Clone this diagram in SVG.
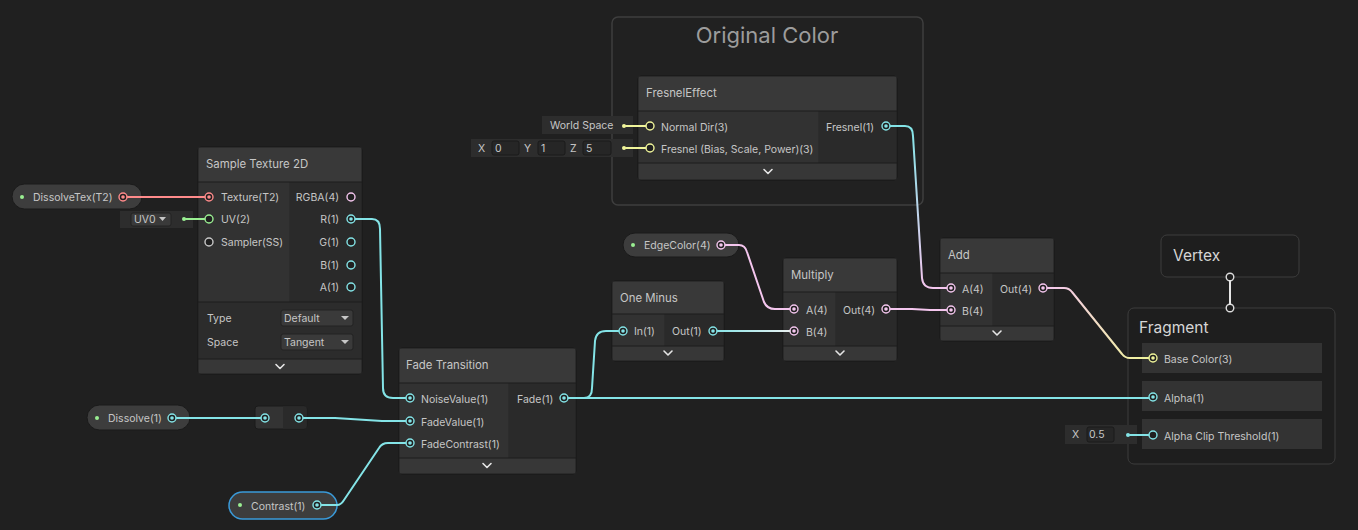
<svg xmlns="http://www.w3.org/2000/svg" width="1358" height="530" viewBox="0 0 1358 530">
<defs>
<style>
.bg{fill:#202020}
.node{fill:#2a2a2a;stroke:#171717;stroke-width:1}
.title{fill:#393939}
.inp{fill:#323232}
.outp{fill:#2a2a2a}
.col{fill:#373737}
.sep{stroke:#1c1c1c;stroke-width:1}
.t{font-family:Inter,"Noto Sans",sans-serif;font-size:10.5px;fill:#c6c6c6;dominant-baseline:central}
.tt{font-family:Inter,"Noto Sans",sans-serif;font-size:11.4px;fill:#c6c6c6;dominant-baseline:central}
.big{font-family:Inter,"Noto Sans",sans-serif;font-size:15.5px;fill:#d6d6d6;dominant-baseline:central}
.grp{font-family:Inter,"Noto Sans",sans-serif;font-size:22px;fill:#9c9c9c;dominant-baseline:central}
.r{text-anchor:end}
.chev{fill:none;stroke:#e6e6e6;stroke-width:1.6;stroke-linecap:round;stroke-linejoin:round}
.pill{fill:#3d3d3d;stroke:#1a1a1a;stroke-width:1}
.box{fill:#2d2d2d}
.fld{fill:#262626;stroke:#1a1a1a;stroke-width:1}
.dd{fill:#3a3a3a;stroke:#222;stroke-width:1}
.e{fill:none;stroke-width:2;stroke-linecap:round;stroke-linejoin:round}
.pcy{fill:#202020;stroke:#84e4e7;stroke-width:1.4}
.ppk{fill:#202020;stroke:#f4c6ee;stroke-width:1.4}
.prd{fill:#202020;stroke:#ff8b8b;stroke-width:1.4}
.pgr{fill:#202020;stroke:#9aef92;stroke-width:1.4}
.pye{fill:#202020;stroke:#f0f59a;stroke-width:1.4}
.pwh{fill:#202020;stroke:#c8c8c8;stroke-width:1.4}
.dcy{fill:#84e4e7}.dpk{fill:#f4c6ee}.drd{fill:#ff8b8b}.dgr{fill:#9aef92}.dye{fill:#f0f59a}
.blk{fill:#1e1e1e;stroke:#3c3c3c;stroke-width:1}
.row{fill:#333333}
</style>
<linearGradient id="gFresAdd" gradientUnits="userSpaceOnUse" x1="0" y1="130" x2="0" y2="289"><stop offset="0" stop-color="#84e4e7"/><stop offset="1" stop-color="#f4c6ee"/></linearGradient>
<linearGradient id="gOmMul" gradientUnits="userSpaceOnUse" x1="713" y1="0" x2="794" y2="0"><stop offset="0" stop-color="#84e4e7"/><stop offset="1" stop-color="#eef0f0"/></linearGradient>
<linearGradient id="gAddBase" gradientUnits="userSpaceOnUse" x1="1043" y1="288" x2="1153" y2="358"><stop offset="0" stop-color="#f4c6ee"/><stop offset="1" stop-color="#f0f59a"/></linearGradient>
</defs>
<rect class="bg" x="0" y="0" width="1358" height="530"/>

<g id="group-original-color">
<rect x="612" y="17" width="311" height="188" rx="6" fill="#212121" stroke="#3e3e3e" stroke-width="1.5"/>
<text class="grp" x="767" y="35" text-anchor="middle">Original Color</text>
</g>

<g id="dissolvetex">
<rect class="pill" x="12" y="184" width="130" height="25" rx="12.5"/>
<circle class="dgr" cx="22" cy="197" r="2"/>
<text class="t" x="33" y="197">DissolveTex(T2)</text>
<circle class="prd" cx="123" cy="197" r="4"/><circle class="drd" cx="123" cy="197" r="1.8"/>
</g>

<g id="uv0">
<rect class="box" x="120" y="211" width="73" height="17"/>
<rect class="dd" x="131" y="213" width="40" height="13" rx="2"/>
<text class="t" x="134" y="219.5">UV0</text>
<path d="M159,217 h7 l-3.5,4 z" fill="#c6c6c6"/>
<circle class="dgr" cx="184" cy="219" r="2"/>
</g>

<g id="sample-texture-2d">
<rect class="node" x="198" y="147" width="164" height="227" rx="3"/>
<rect class="title" x="198.5" y="147.5" width="163" height="34.5"/>
<rect class="inp" x="198.5" y="182" width="91" height="120"/>
<rect class="outp" x="289.5" y="182" width="72" height="120"/>
<rect x="198.5" y="302" width="163" height="57" fill="#2c2c2c"/>
<rect class="col" x="198.5" y="359" width="163" height="14.5"/>
<line class="sep" x1="198" y1="182" x2="362" y2="182"/>
<line class="sep" x1="198" y1="302" x2="362" y2="302"/>
<line class="sep" x1="198" y1="359" x2="362" y2="359"/>
<text class="tt" x="206" y="164">Sample Texture 2D</text>
<circle class="prd" cx="209" cy="197" r="4"/><circle class="drd" cx="209" cy="197" r="1.8"/>
<text class="t" x="221" y="197">Texture(T2)</text>
<circle class="pgr" cx="209" cy="219" r="4"/>
<text class="t" x="221" y="219">UV(2)</text>
<circle class="pwh" cx="209" cy="242" r="4"/>
<text class="t" x="221" y="242">Sampler(SS)</text>
<text class="t r" x="339" y="197">RGBA(4)</text>
<circle class="ppk" cx="351" cy="197" r="4"/>
<text class="t r" x="339" y="219">R(1)</text>
<circle class="pcy" cx="351" cy="219" r="4"/><circle class="dcy" cx="351" cy="219" r="1.8"/>
<text class="t r" x="339" y="242">G(1)</text>
<circle class="pcy" cx="351" cy="242" r="4"/>
<text class="t r" x="339" y="265">B(1)</text>
<circle class="pcy" cx="351" cy="265" r="4"/>
<text class="t r" x="339" y="287">A(1)</text>
<circle class="pcy" cx="351" cy="287" r="4"/>
<text class="t" x="207" y="318">Type</text>
<rect class="dd" x="281" y="310" width="72" height="16" rx="2"/>
<text class="t" x="284" y="318">Default</text>
<path d="M341,316 h8 l-4,4 z" fill="#c6c6c6"/>
<text class="t" x="207" y="342">Space</text>
<rect class="dd" x="281" y="334" width="72" height="16" rx="2"/>
<text class="t" x="284" y="342">Tangent</text>
<path d="M341,340 h8 l-4,4 z" fill="#c6c6c6"/>
<path class="chev" d="M276,364.5 L280,368.5 L284,364.5"/>
</g>

<g id="world-space">
<rect class="box" x="542" y="116" width="91" height="18"/>
<text class="t" x="550" y="125.5">World Space</text>
<circle class="dye" cx="624" cy="126" r="2"/>
</g>

<g id="xyz-input">
<rect class="box" x="471" y="139" width="162" height="18"/>
<text class="t" x="478" y="148">X</text>
<rect class="fld" x="492" y="141" width="27" height="14" rx="2"/>
<text class="t" x="495" y="148">0</text>
<text class="t" x="524" y="148">Y</text>
<rect class="fld" x="538" y="141" width="27" height="14" rx="2"/>
<text class="t" x="541" y="148">1</text>
<text class="t" x="570" y="148">Z</text>
<rect class="fld" x="583" y="141" width="28" height="14" rx="2"/>
<text class="t" x="586" y="148">5</text>
<circle class="dye" cx="624" cy="148" r="2"/>
</g>

<g id="fresnel-effect">
<rect class="node" x="638" y="76" width="259" height="104" rx="3"/>
<rect class="title" x="638.5" y="76.5" width="258" height="34.5"/>
<rect class="inp" x="638.5" y="111" width="180" height="52"/>
<rect class="outp" x="818.5" y="111" width="78" height="52"/>
<rect class="col" x="638.5" y="163" width="258" height="16.5"/>
<line class="sep" x1="638" y1="111" x2="897" y2="111"/>
<line class="sep" x1="638" y1="163" x2="897" y2="163"/>
<text class="tt" x="646" y="93">FresnelEffect</text>
<circle class="pye" cx="650" cy="126" r="4"/>
<text class="t" x="661" y="127">Normal Dir(3)</text>
<circle class="pye" cx="650" cy="148" r="4"/>
<text class="t" x="661" y="149">Fresnel (Bias, Scale, Power)(3)</text>
<text class="t" x="826" y="127">Fresnel(1)</text>
<circle class="pcy" cx="886" cy="126" r="4"/><circle class="dcy" cx="886" cy="126" r="1.8"/>
<path class="chev" d="M764,169.5 L768,173.5 L772,169.5"/>
</g>

<g id="dissolve">
<rect class="pill" x="87" y="405" width="103" height="25" rx="12.5"/>
<circle class="dgr" cx="97" cy="418" r="2"/>
<text class="t" x="108" y="418.5">Dissolve(1)</text>
<circle class="pcy" cx="172" cy="418" r="4"/><circle class="dcy" cx="172" cy="418" r="1.8"/>
</g>

<g id="redirect">
<rect x="255" y="406" width="52" height="23" rx="3" fill="#333333" stroke="#1a1a1a"/>
<rect x="283" y="406.5" width="23.5" height="22" fill="#2a2a2a"/>
<circle class="pcy" cx="265" cy="418" r="4"/><circle class="dcy" cx="265" cy="418" r="1.8"/>
<circle class="pcy" cx="299" cy="418" r="4"/><circle class="dcy" cx="299" cy="418" r="1.8"/>
</g>

<g id="contrast">
<rect x="229" y="492" width="108" height="27" rx="13.5" fill="#3d3d3d" stroke="#3a9ad9" stroke-width="1.5"/>
<circle class="dgr" cx="240" cy="505" r="2"/>
<text class="t" x="251" y="506">Contrast(1)</text>
<circle class="pcy" cx="317" cy="505" r="4"/><circle class="dcy" cx="317" cy="505" r="1.8"/>
</g>

<g id="fade-transition">
<rect class="node" x="399" y="348" width="177" height="126" rx="3"/>
<rect class="title" x="399.5" y="348.5" width="176" height="34.5"/>
<rect class="inp" x="399.5" y="383" width="109" height="75"/>
<rect class="outp" x="508.5" y="383" width="67" height="75"/>
<rect class="col" x="399.5" y="458" width="176" height="15.5"/>
<line class="sep" x1="399" y1="383" x2="576" y2="383"/>
<line class="sep" x1="399" y1="458" x2="576" y2="458"/>
<text class="tt" x="406" y="365">Fade Transition</text>
<circle class="pcy" cx="410" cy="398" r="4"/><circle class="dcy" cx="410" cy="398" r="1.8"/>
<text class="t" x="421" y="399">NoiseValue(1)</text>
<circle class="pcy" cx="410" cy="421" r="4"/><circle class="dcy" cx="410" cy="421" r="1.8"/>
<text class="t" x="421" y="422">FadeValue(1)</text>
<circle class="pcy" cx="410" cy="443" r="4"/><circle class="dcy" cx="410" cy="443" r="1.8"/>
<text class="t" x="421" y="444">FadeContrast(1)</text>
<text class="t" x="517" y="399">Fade(1)</text>
<circle class="pcy" cx="564" cy="398" r="4"/><circle class="dcy" cx="564" cy="398" r="1.8"/>
<path class="chev" d="M483,463.5 L487,467.5 L491,463.5"/>
</g>

<g id="one-minus">
<rect class="node" x="612" y="281" width="112" height="80" rx="3"/>
<rect class="title" x="612.5" y="281.5" width="111" height="32.5"/>
<rect class="inp" x="612.5" y="314" width="52" height="32"/>
<rect class="outp" x="664.5" y="314" width="59" height="32"/>
<rect class="col" x="612.5" y="346" width="111" height="14.5"/>
<line class="sep" x1="612" y1="314" x2="724" y2="314"/>
<line class="sep" x1="612" y1="346" x2="724" y2="346"/>
<text class="tt" x="620" y="298">One Minus</text>
<circle class="pcy" cx="623" cy="331" r="4"/><circle class="dcy" cx="623" cy="331" r="1.8"/>
<text class="t" x="634" y="331.5">In(1)</text>
<text class="t" x="672" y="331.5">Out(1)</text>
<circle class="pcy" cx="713" cy="331" r="4"/><circle class="dcy" cx="713" cy="331" r="1.8"/>
<path class="chev" d="M664,351 L668,355 L672,351"/>
</g>

<g id="edgecolor">
<rect class="pill" x="623" y="233" width="116" height="24" rx="12"/>
<circle class="dgr" cx="633" cy="245" r="2"/>
<text class="t" x="644" y="245.5">EdgeColor(4)</text>
<circle class="ppk" cx="721" cy="245" r="4"/><circle class="dpk" cx="721" cy="245" r="1.8"/>
</g>

<g id="multiply">
<rect class="node" x="783" y="258" width="114" height="103" rx="3"/>
<rect class="title" x="783.5" y="258.5" width="113" height="33.5"/>
<rect class="inp" x="783.5" y="292" width="52" height="54"/>
<rect class="outp" x="835.5" y="292" width="61" height="54"/>
<rect class="col" x="783.5" y="346" width="113" height="14.5"/>
<line class="sep" x1="783" y1="292" x2="897" y2="292"/>
<line class="sep" x1="783" y1="346" x2="897" y2="346"/>
<text class="tt" x="791" y="275">Multiply</text>
<circle class="ppk" cx="794" cy="309" r="4"/><circle class="dpk" cx="794" cy="309" r="1.8"/>
<text class="t" x="806" y="310">A(4)</text>
<circle class="ppk" cx="794" cy="331" r="4"/><circle class="dpk" cx="794" cy="331" r="1.8"/>
<text class="t" x="806" y="332">B(4)</text>
<text class="t" x="843" y="310">Out(4)</text>
<circle class="ppk" cx="886" cy="309" r="4"/><circle class="dpk" cx="886" cy="309" r="1.8"/>
<path class="chev" d="M836,351 L840,355 L844,351"/>
</g>

<g id="add">
<rect class="node" x="940" y="238" width="114" height="103" rx="3"/>
<rect class="title" x="940.5" y="238.5" width="113" height="34.5"/>
<rect class="inp" x="940.5" y="273" width="52" height="53"/>
<rect class="outp" x="992.5" y="273" width="61" height="53"/>
<rect class="col" x="940.5" y="326" width="113" height="14.5"/>
<line class="sep" x1="940" y1="273" x2="1054" y2="273"/>
<line class="sep" x1="940" y1="326" x2="1054" y2="326"/>
<text class="tt" x="948" y="255">Add</text>
<circle class="ppk" cx="951" cy="288" r="4"/><circle class="dpk" cx="951" cy="288" r="1.8"/>
<text class="t" x="962" y="289">A(4)</text>
<circle class="ppk" cx="951" cy="310" r="4"/><circle class="dpk" cx="951" cy="310" r="1.8"/>
<text class="t" x="962" y="311">B(4)</text>
<text class="t" x="1000" y="289">Out(4)</text>
<circle class="ppk" cx="1043" cy="288" r="4"/><circle class="dpk" cx="1043" cy="288" r="1.8"/>
<path class="chev" d="M993,331 L997,335 L1001,331"/>
</g>

<g id="vertex">
<rect class="blk" x="1161" y="235" width="138" height="42" rx="6"/>
<text class="big" x="1173" y="255">Vertex</text>
<circle cx="1230" cy="277" r="3.8" fill="#1e1e1e" stroke="#dcdcdc" stroke-width="1.4"/>
</g>

<g id="fragment">
<rect class="blk" x="1128" y="308" width="207" height="156" rx="6"/>
<circle cx="1230" cy="308" r="3.8" fill="#1e1e1e" stroke="#dcdcdc" stroke-width="1.4"/>
<text class="big" x="1139" y="327">Fragment</text>
<rect class="row" x="1142" y="343" width="180" height="30"/>
<circle class="pye" cx="1153" cy="358" r="4"/><circle class="dye" cx="1153" cy="358" r="1.8"/>
<text class="t" x="1164" y="359">Base Color(3)</text>
<rect class="row" x="1142" y="381" width="180" height="30"/>
<circle class="pcy" cx="1153" cy="397" r="4"/><circle class="dcy" cx="1153" cy="397" r="1.8"/>
<text class="t" x="1164" y="398">Alpha(1)</text>
<rect class="row" x="1142" y="419" width="180" height="30"/>
<circle class="pcy" cx="1153" cy="435" r="4"/>
<text class="t" x="1164" y="436">Alpha Clip Threshold(1)</text>
</g>

<g id="alpha-clip-input">
<rect class="box" x="1065" y="425" width="72" height="19"/>
<text class="t" x="1072" y="434.5">X</text>
<rect class="fld" x="1087" y="427" width="27" height="15" rx="2"/>
<text class="t" x="1089" y="434.5">0.5</text>
<circle class="dcy" cx="1128" cy="435" r="2"/>
</g>

<g id="connectors">
<path class="e" stroke="#ff8b8b" d="M127.5,197 H204.5"/>
<path class="e" stroke="#9aef92" d="M186,219 H204.5"/>
<path class="e" stroke="#84e4e7" d="M355.5,219 H372 Q380,219 380,229 L383,388 Q383,398 393,398 H405.5"/>
<path class="e" stroke="#84e4e7" d="M176.5,418 H260.5"/>
<path class="e" stroke="#84e4e7" d="M303.5,418 H335 L382,421 H405.5"/>
<path class="e" stroke="#84e4e7" d="M321.5,505 H337 Q341,505 344,500 L379,448 Q382,443 388,443 H405.5"/>
<path class="e" stroke="#84e4e7" d="M568.5,398 H1148.5"/>
<path class="e" stroke="#84e4e7" d="M568.5,398 H584 Q592,398 592,388 L595,341 Q596,331 606,331 H618.5"/>
<path class="e" stroke="url(#gOmMul)" d="M717.5,331 H789.5"/>
<path class="e" stroke="#f4c6ee" d="M725.5,245 H739 Q745,245 747,252 L764,302 Q767,309 775,309 H789.5"/>
<path class="e" stroke="#f4c6ee" d="M890.5,309 H912 L930,310 H946.5"/>
<path class="e" stroke="url(#gFresAdd)" d="M890.5,126 H905 Q913,126 913,136 L922,278 Q923,288 933,288 H946.5"/>
<path class="e" stroke="url(#gAddBase)" d="M1047.5,288 H1064 Q1069,288 1072,292 L1122,354 Q1125,358 1130,358 H1148.5"/>
<path class="e" stroke="#f0f59a" d="M626,126 H645.5"/>
<path class="e" stroke="#f0f59a" d="M626,148 H645.5"/>
<path class="e" stroke="#84e4e7" d="M1130,435 H1148.5"/>
<path class="e" stroke="#e6e6e6" d="M1230,281 V304"/>
</g>
</svg>
